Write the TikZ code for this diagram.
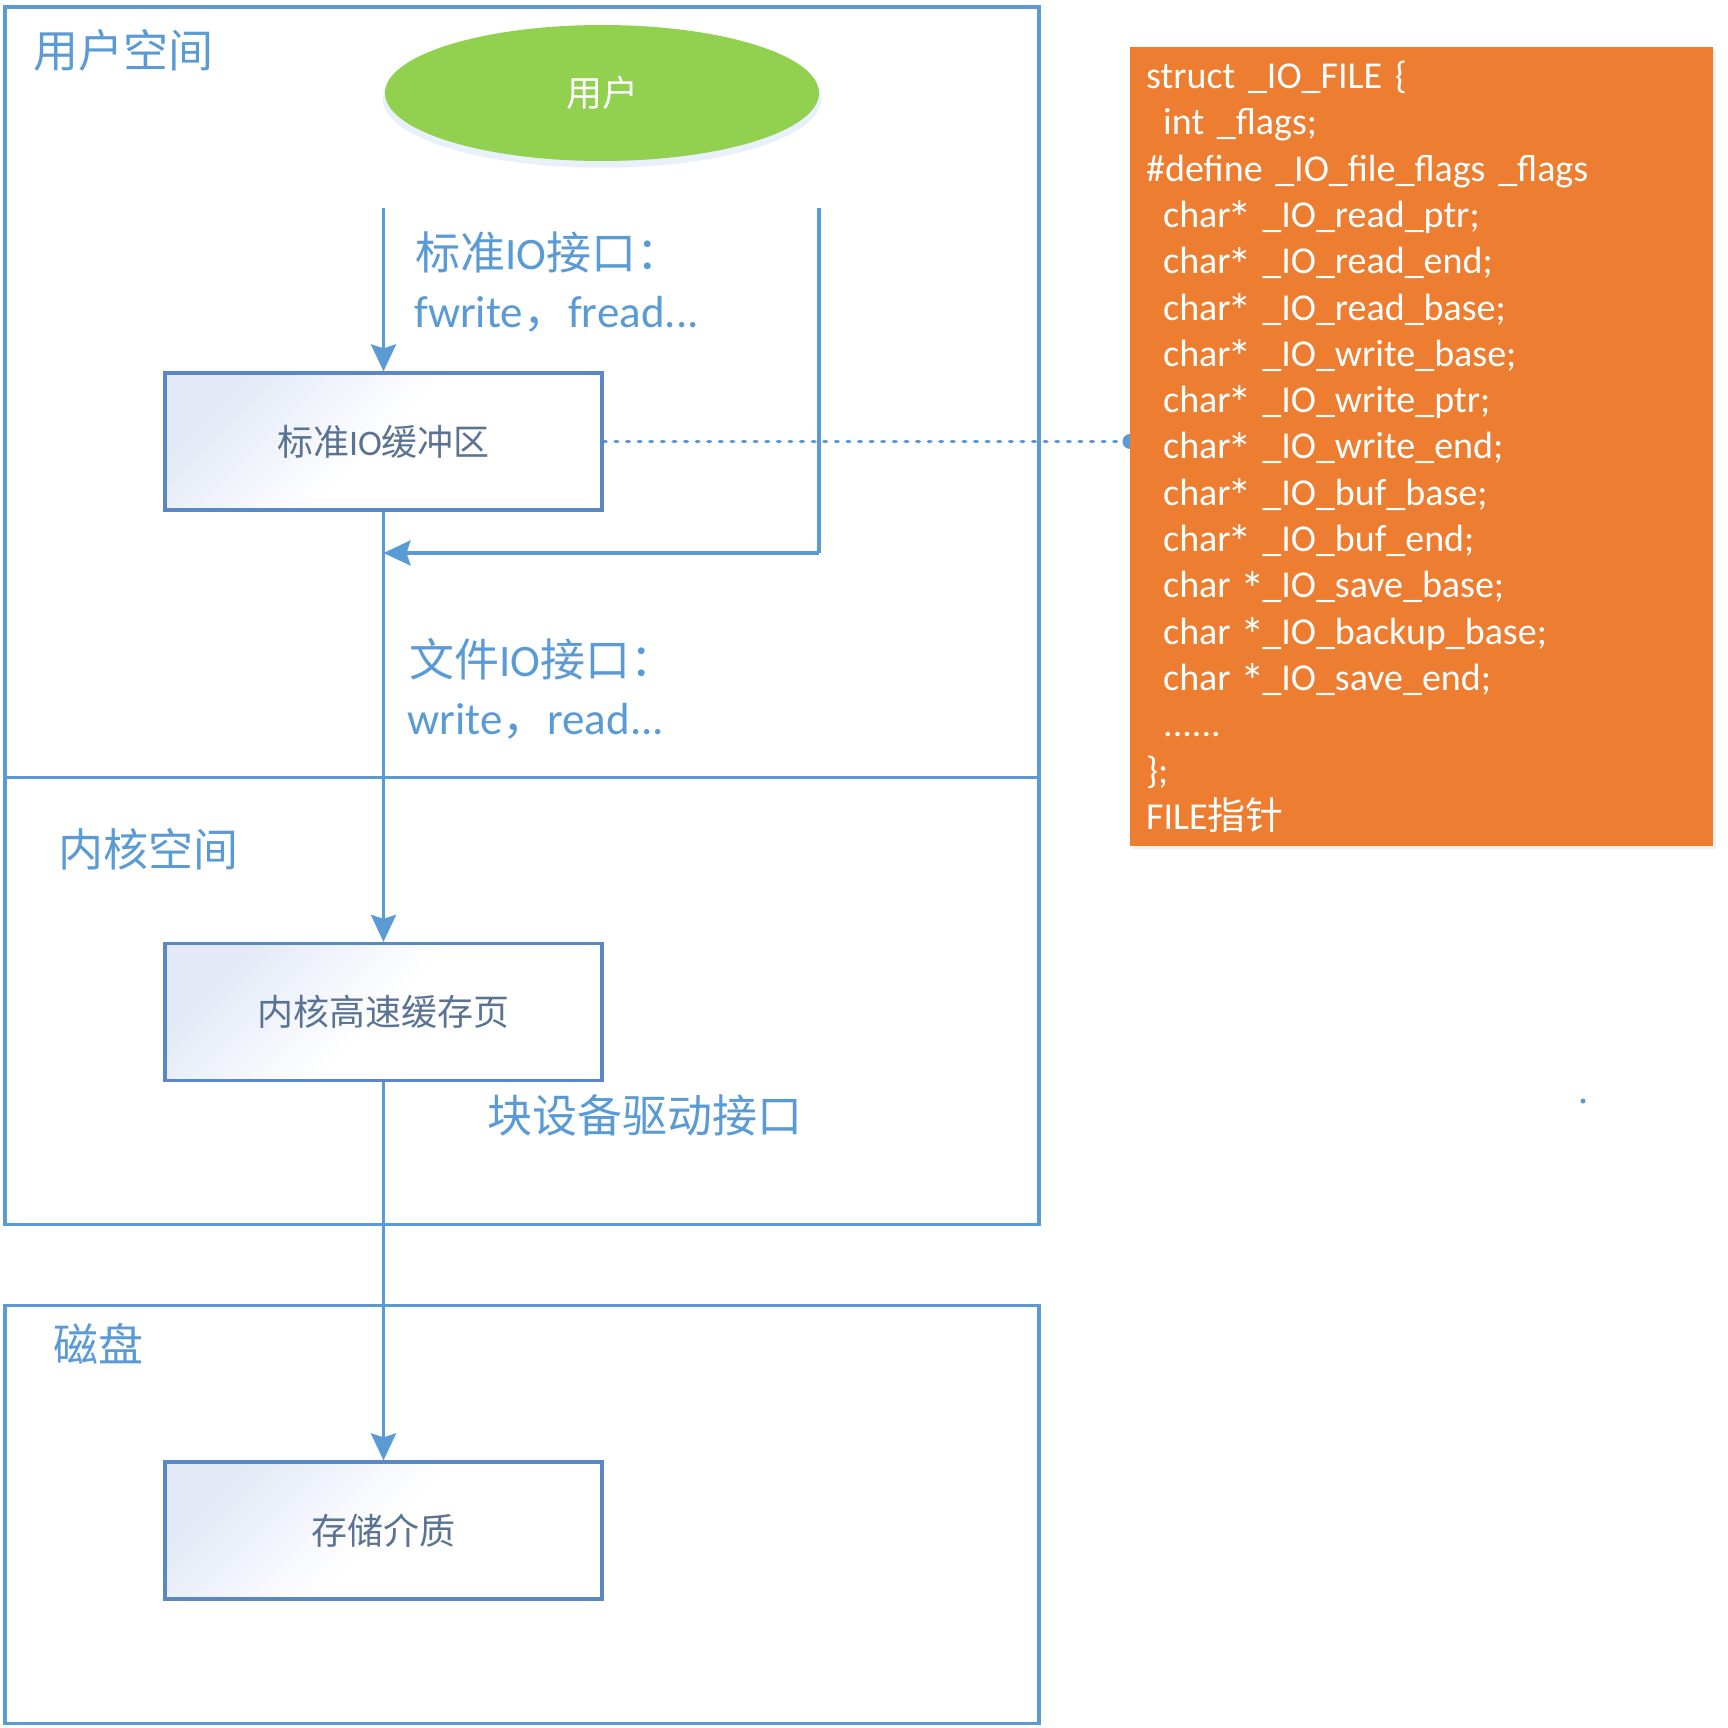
\documentclass[tikz,border=0pt]{standalone}
\usepackage{fontspec}
\setmainfont{Carlito}
\newfontfamily\cjk{Noto Sans CJK SC}
\usetikzlibrary{arrows.meta,shapes.geometric,shadows,backgrounds}
\newcommand\zh[1]{{\cjk #1}}
\newcommand\sstar{\makebox[0.5em]{\raisebox{-0.22em}{\scalebox{1.3}{*}}}}
\definecolor{lineblue}{HTML}{5B9BD5}
\definecolor{boxline}{HTML}{5A88C4}
\definecolor{boxtext}{HTML}{5A7393}
\definecolor{boxfill}{HTML}{E3E9F6}
\definecolor{usergreen}{HTML}{92D050}
\definecolor{fileorange}{HTML}{ED7D31}
\begin{document}
\begin{tikzpicture}[x=1pt,y=-1pt,
  region/.style={draw=lineblue, line width=3.2pt, minimum width=1034pt, anchor=north west, inner sep=0pt},
  box/.style={draw=boxline, line width=3.2pt, minimum width=437pt, minimum height=137pt, inner sep=0pt,
    top color=boxfill, bottom color=white, middle color=white, shading angle=45, text=boxtext,
    font=\fontsize{36}{40}\selectfont},
  lab/.style={anchor=west, text=lineblue, inner sep=0pt, font=\fontsize{45}{50}\selectfont},
  conn/.style={draw=lineblue, line width=3.2pt, -{Stealth[length=27pt,width=25pt,inset=4pt]}},
  plain/.style={draw=lineblue, line width=3.2pt},
  dotline/.style={draw=lineblue, line width=3.8pt, line cap=round, dash pattern=on 2.4pt off 9.2pt},
  filebox/.style={fill=fileorange, text=white, anchor=north west, align=left,
    minimum width=583pt, minimum height=799pt, text width=551pt, inner xsep=16pt, inner ysep=0pt,
    font=\fontsize{38}{46.3}\selectfont,
    drop shadow={shadow xshift=3pt, shadow yshift=-3pt, opacity=0.2, fill=black!30}}
]
\useasboundingbox (0,0) rectangle (1728,1728);
\begin{scope}[on background layer]
  \fill[white] (0,0) rectangle (1728,1728);
\end{scope}

% regions
\node[region, minimum height=770pt] (userspace) at (3.3,5.5) {};
\node[region, minimum height=447pt] (kernelspace) at (3.3,775.5) {};
\node[region, minimum height=418pt] (disk) at (3.3,1304) {};

% region labels
\node[lab] (ulab) at (33,50) {\zh{用户空间}};
\node[lab] (klab) at (58,849) {\zh{内核空间}};
\node[lab] (dlab) at (53,1344) {\zh{磁盘}};

% user ellipse
\node[ellipse, fill=usergreen, text=white, minimum width=434pt, minimum height=136pt, inner sep=0pt,
  font=\fontsize{36}{40}\selectfont,
  drop shadow={shadow xshift=0pt, shadow yshift=-6pt, shadow scale=1.01, opacity=0.28, fill=lineblue!50}] (user) at (602,93) {\zh{用户}};

% boxes
\node[box] (b1) at (383.5,441.5) {\zh{标准}IO\zh{缓冲区}};
\node[box] (b2) at (383.5,1012) {\zh{内核高速缓存页}};
\node[box] (b3) at (383.5,1530.5) {\zh{存储介质}};

% interface labels
\node[lab] (stdio) at (415,252) {\zh{标准}IO\zh{接口：}};
\node[lab] (stdfn) at (414,314) {fwrite\zh{，}fread...};
\node[lab] (fileio) at (409,659) {\zh{文件}IO\zh{接口：}};
\node[lab] (filefn) at (407,721) {write\zh{，}read...};
\node[lab] (blk) at (487,1115) {\zh{块设备驱动接口}};

% FILE struct
\node[filebox] (file) at (1130,47) {%
struct \_IO\_FILE \{\\
\hspace*{17pt}int \_flags;\\
\#define \_IO\_file\_flags \_flags\\
\hspace*{17pt}char\sstar{} \_IO\_read\_ptr;\\
\hspace*{17pt}char\sstar{} \_IO\_read\_end;\\
\hspace*{17pt}char\sstar{} \_IO\_read\_base;\\
\hspace*{17pt}char\sstar{} \_IO\_write\_base;\\
\hspace*{17pt}char\sstar{} \_IO\_write\_ptr;\\
\hspace*{17pt}char\sstar{} \_IO\_write\_end;\\
\hspace*{17pt}char\sstar{} \_IO\_buf\_base;\\
\hspace*{17pt}char\sstar{} \_IO\_buf\_end;\\
\hspace*{17pt}char \sstar\_IO\_save\_base;\\
\hspace*{17pt}char \sstar\_IO\_backup\_base;\\
\hspace*{17pt}char \sstar\_IO\_save\_end;\\
\hspace*{17pt}......\\
\};\\
FILE\zh{指针}};

% connectors
\coordinate (s1) at (383.5,208);
\coordinate (s2) at (819,208);
\coordinate (c2) at (819,553);
\coordinate (j) at (383.5,553);
\draw[conn] (s1) -- (b1.north);
\draw[plain] (s2) -- (c2);
\draw[conn] (c2) -- (j);
\draw[conn] (b1.south) -- (b2.north);
\draw[conn] (b2.south) -- (b3.north);

\begin{scope}[on background layer]
  \draw[dotline] (b1.east) -- (b1.east -| file.west);
  \fill[lineblue] (b1.east -| file.west) circle (7.5);
\end{scope}

% stray dot
\fill[lineblue] (1583,1101) circle (2.5);
\end{tikzpicture}
\end{document}
